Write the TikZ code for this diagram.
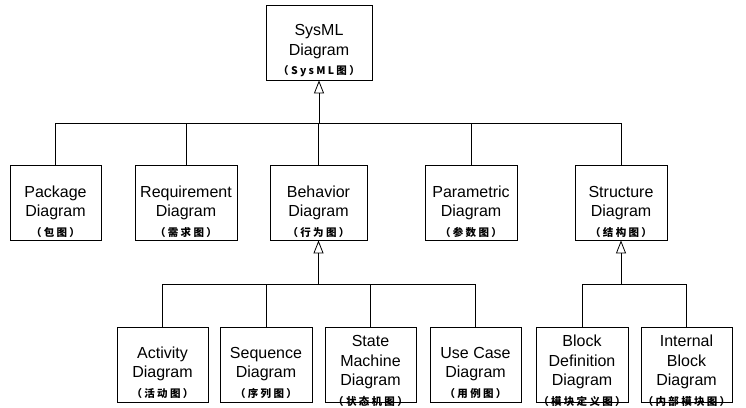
\documentclass[tikz,border=0pt]{standalone}
\usepackage{fontspec}
\setmainfont{Liberation Sans}
\newfontfamily\cjk{Noto Sans CJK SC}
\usetikzlibrary{arrows.meta}
\newcommand{\zh}[1]{{\cjk\bfseries\fontsize{10.5}{10}\selectfont\addfontfeatures{LetterSpace=22}#1}}
\tikzset{
 box/.style={draw,line width=0.8pt,minimum height=75pt,inner sep=0pt},
 txt/.style={align=center,font=\fontsize{16}{19.5}\selectfont,inner sep=0pt,anchor=south},
 ln/.style={line width=0.8pt},
 inh/.style={ln,-{Triangle[open,length=13pt,width=10pt]}}
}
\begin{document}
\begin{tikzpicture}[x=1pt,y=-1pt]
\useasboundingbox (0,0) rectangle (746,407);
\node[box,minimum width=106pt] (sys) at (319,42.5) {};
\node[txt] (sysT) at ([yshift=3pt]sys.south) {SysML\\Diagram\\\zh{（SysML图）}};
\node[box,minimum width=91pt] (pkg) at (55.5,202.5) {};
\node[txt] (pkgT) at ([yshift=3pt]pkg.south) {Package\\Diagram\\\zh{（包图）}};
\node[box,minimum width=102pt] (req) at (186,202.5) {};
\node[txt] (reqT) at ([yshift=3pt]req.south) {Requirement\\Diagram\\\zh{（需求图）}};
\node[box,minimum width=97pt] (beh) at (318.5,202.5) {};
\node[txt] (behT) at ([yshift=3pt]beh.south) {Behavior\\Diagram\\\zh{（行为图）}};
\node[box,minimum width=92pt] (par) at (471,202.5) {};
\node[txt] (parT) at ([yshift=3pt]par.south) {Parametric\\Diagram\\\zh{（参数图）}};
\node[box,minimum width=92pt] (str) at (621,202.5) {};
\node[txt] (strT) at ([yshift=3pt]str.south) {Structure\\Diagram\\\zh{（结构图）}};
\node[box,minimum width=91pt] (act) at (162.5,364.5) {};
\node[txt] (actT) at ([yshift=4pt]act.south) {Activity\\Diagram\\\zh{（活动图）}};
\node[box,minimum width=92pt] (seq) at (266,364.5) {};
\node[txt] (seqT) at ([yshift=4pt]seq.south) {Sequence\\Diagram\\\zh{（序列图）}};
\node[box,minimum width=91pt] (sm) at (370.5,364.5) {};
\node[txt] (smT) at ([yshift=-4pt]sm.south) {State\\Machine\\Diagram\\\zh{（状态机图）}};
\node[box,minimum width=91pt] (uc) at (475.5,364.5) {};
\node[txt] (ucT) at ([yshift=4pt]uc.south) {Use Case\\Diagram\\\zh{（用例图）}};
\node[box,minimum width=92pt] (bdd) at (582,364.5) {};
\node[txt] (bddT) at ([yshift=-4pt]bdd.south) {Block\\Definition\\Diagram\\\zh{（模块定义图）}};
\node[box,minimum width=91pt] (ibd) at (686.5,364.5) {};
\node[txt] (ibdT) at ([yshift=-4pt]ibd.south) {Internal\\Block\\Diagram\\\zh{（内部模块图）}};
\coordinate (j1) at (319,123);
\draw[inh] (j1) -- (sys.south);
\draw[ln] (pkg.north) |- (j1);
\draw[ln] (req.north) |- (j1);
\draw[ln] (beh.north) |- (j1);
\draw[ln] (par.north) |- (j1);
\draw[ln] (str.north) |- (j1);
\coordinate (j2) at (318.5,284);
\draw[inh] (j2) -- (beh.south);
\draw[ln] (act.north) |- (j2);
\draw[ln] (seq.north) |- (j2);
\draw[ln] (sm.north) |- (j2);
\draw[ln] (uc.north) |- (j2);
\coordinate (j3) at (621,284);
\draw[inh] (j3) -- (str.south);
\draw[ln] (bdd.north) |- (j3);
\draw[ln] (ibd.north) |- (j3);
\end{tikzpicture}
\end{document}
